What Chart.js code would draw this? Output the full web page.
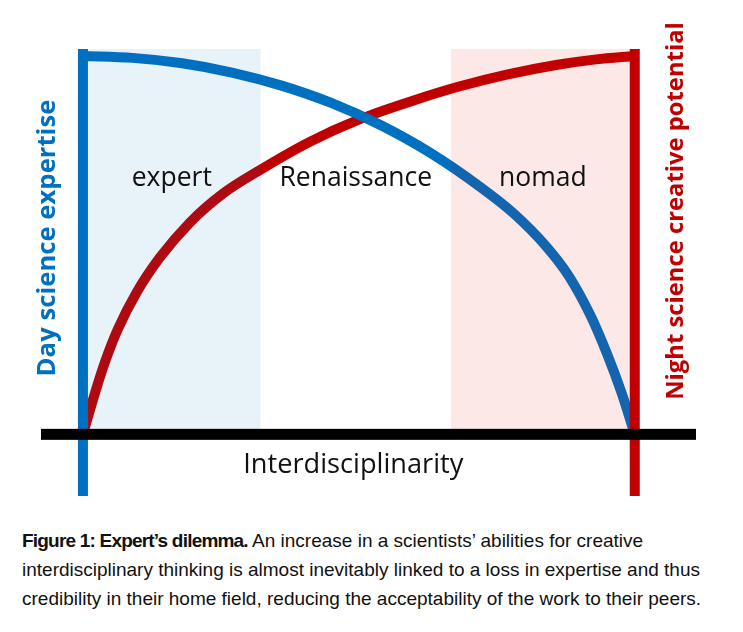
<!DOCTYPE html>
<html>
<head>
<meta charset="utf-8">
<script src="https://cdn.jsdelivr.net/npm/chart.js@4"></script>
<style>
  body { margin: 0; background: #fff; width: 743px; height: 632px; overflow: hidden; position: relative; }
  #dilemma { position: absolute; left: 0; top: 0; }
  .caption {
    position: absolute; left: 22px; top: 526px; width: 720px;
    font-family: "Liberation Sans", Arial, sans-serif; font-size: 19px; line-height: 29px;
    color: #111; white-space: nowrap;
  }
  .caption b { letter-spacing: -0.8px; }
</style>
</head>
<body>
<canvas id="dilemma" width="743" height="520"></canvas>
<div class="caption">
  <b>Figure 1: Expert’s dilemma.</b> An increase in a scientists’ abilities for creative<br>
  interdisciplinary thinking is almost inevitably linked to a loss in expertise and thus<br>
  credibility in their home field, reducing the acceptability of the work to their peers.
</div>
<script>
// expertise falls as interdisciplinarity grows, creative potential rises
const expertiseX = [0, 9, 18, 27, 36, 45, 54, 63, 72, 78, 84, 88, 92, 95, 97.6, 100];
const expertiseY = [98.2, 97.7, 96.3, 93.9, 90.5, 86.0, 80.2, 73.0, 64.2, 57.4, 48.7, 41.2, 30.8, 20.8, 10.8, 0];
const potentialX = [0, 2.2, 4.0, 6.3, 9.8, 13.9, 19.4, 25.4, 32.1, 41.1, 50.2, 59.8, 68, 77, 86, 93, 100];
const potentialY = [0, 10.8, 18.8, 27.2, 37.0, 45.8, 55.0, 62.5, 68.6, 75.9, 81.8, 86.6, 90.2, 93.4, 95.9, 97.3, 98.2];
const zoneLabels = ['expert', 'Renaissance', 'nomad'];
const zoneBounds = [0, 32.2, 66.7, 100];
const xTitle = 'Interdisciplinarity';
const leftTitle = 'Day science expertise';
const rightTitle = 'Night science creative potential';

const BLUE = '#0070c0';
const RED = '#c00000';

const toPoints = (xs, ys) => xs.map((x, i) => ({ x: x, y: ys[i] }));

function fitFont(ctx, text, width, weight, family) {
  let size = 30;
  ctx.font = weight + ' ' + size + 'px ' + family;
  size = size * width / ctx.measureText(text).width;
  return weight + ' ' + size.toFixed(1) + 'px ' + family;
}

const decorations = {
  id: 'decorations',
  afterDatasetsDraw(chart) {
    const ctx = chart.ctx;
    const xs = chart.scales.x, ys = chart.scales.y;
    const y0 = ys.getPixelForValue(0), y100 = ys.getPixelForValue(100);
    const x0 = xs.getPixelForValue(0), x100 = xs.getPixelForValue(100);
    ctx.save();

    // translucent zones laid over the curves
    ctx.fillStyle = 'rgba(0,112,192,0.09)';
    ctx.fillRect(x0, y100, xs.getPixelForValue(zoneBounds[1]) - x0, y0 - 5 - y100);
    ctx.fillStyle = 'rgba(230,0,0,0.09)';
    const pinkL = xs.getPixelForValue(zoneBounds[2]);
    ctx.fillRect(pinkL, y100, x100 - pinkL, y0 - 5 - y100);

    // the two vertical axes
    ctx.fillStyle = BLUE;
    ctx.fillRect(x0 - 5, y100, 10, chart.chartArea.bottom - y100);
    ctx.fillStyle = RED;
    ctx.fillRect(x100 - 5, y100, 10, chart.chartArea.bottom - y100);

    // black baseline
    ctx.fillStyle = '#000';
    ctx.fillRect(chart.chartArea.left, y0 - 5.5, chart.chartArea.right - chart.chartArea.left, 11);

    // zone names
    ctx.fillStyle = '#111';
    ctx.textAlign = 'center';
    ctx.textBaseline = 'middle';
    ctx.font = '26.5px "Open Sans"';
    const labelY = ys.getPixelForValue(66.3);
    zoneLabels.forEach((lab, i) => {
      const cx = xs.getPixelForValue((zoneBounds[i] + zoneBounds[i + 1]) / 2);
      ctx.fillText(lab, cx, labelY);
    });

    // axis title under the baseline
    ctx.font = fitFont(ctx, xTitle, 220, 'normal', '"Open Sans"');
    ctx.fillText(xTitle, xs.getPixelForValue(49), y0 + 31);

    // rotated side titles
    ctx.save();
    ctx.translate(48, 238);
    ctx.rotate(-Math.PI / 2);
    ctx.fillStyle = BLUE;
    ctx.font = fitFont(ctx, leftTitle, 277, 'bold', '"Open Sans"');
    ctx.fillText(leftTitle, 0, 0);
    ctx.restore();

    ctx.save();
    ctx.translate(676, 211);
    ctx.rotate(-Math.PI / 2);
    ctx.fillStyle = RED;
    ctx.font = fitFont(ctx, rightTitle, 378, 'bold', '"Open Sans"');
    ctx.fillText(rightTitle, 0, 0);
    ctx.restore();

    ctx.restore();
  }
};

new Chart(document.getElementById('dilemma').getContext('2d'), {
  type: 'line',
  data: {
    datasets: [
      {
        label: leftTitle,
        data: toPoints(expertiseX, expertiseY),
        borderColor: BLUE,
        borderWidth: 10,
        pointRadius: 0,
        cubicInterpolationMode: 'monotone',
        fill: false
      },
      {
        label: rightTitle,
        data: toPoints(potentialX, potentialY),
        borderColor: RED,
        borderWidth: 10,
        pointRadius: 0,
        cubicInterpolationMode: 'monotone',
        fill: false
      }
    ]
  },
  options: {
    responsive: false,
    animation: false,
    devicePixelRatio: 1,
    layout: { padding: { left: 41, right: 47, top: 49, bottom: 24 } },
    scales: {
      x: { type: 'linear', min: -7.6, max: 111.1, display: false },
      y: { type: 'linear', min: -16, max: 100, display: false }
    },
    plugins: {
      legend: { display: false },
      tooltip: { enabled: false }
    }
  },
  plugins: [decorations]
});
</script>
</body>
</html>
